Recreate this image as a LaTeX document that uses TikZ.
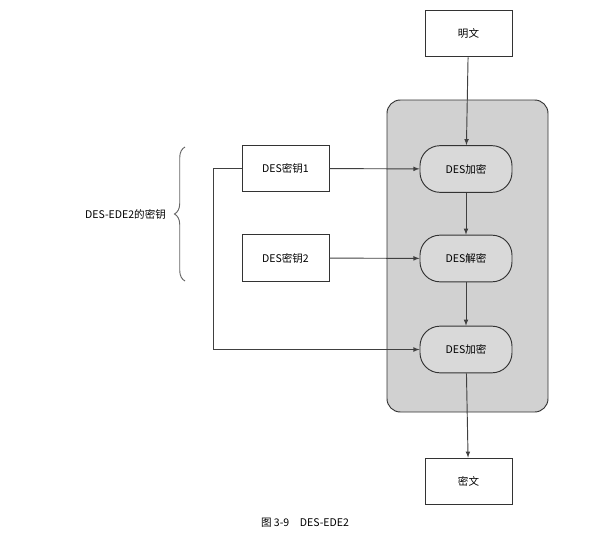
\documentclass[tikz,border=0pt]{standalone}
\usepackage{fontspec}
\setmainfont{Noto Sans CJK SC}
\usetikzlibrary{decorations.pathreplacing}
\begin{document}
\begin{tikzpicture}
	[x=0.3mm,y=-0.3mm,
		box/.style		={rectangle, draw=black!80, thick, fill=white,
									minimum width=26.1mm, minimum height=14mm, font=\small},
		pill/.style		={rectangle, rounded corners=6mm, draw=black!80, thick, fill=black!15,
									minimum width=27.6mm, minimum height=14mm, font=\small},
		line/.style		 	={draw, thick, black!75, -latex}
	]
\useasboundingbox (0,0) rectangle (609,540);
% gray frame
\node [draw=black!80, thick, fill=black!18, rounded corners=4mm,
	minimum width=48.3mm, minimum height=93.6mm] (frame) at (467.5,256) {};
% plain and cipher text
\node [box] (plain)  at (468.5,33.5)  {明文};
\node [box] (cipher) at (468.5,481.5) {密文};
% steps
\node [pill] (enc 1) at (466,169)   {DES加密};
\node [pill] (dec)   at (466,258.5) {DES解密};
\node [pill] (enc 2) at (466,349.5) {DES加密};
% keys
\node [box] (key 1) at (285.5,168.5) {DES密钥1};
\node [box] (key 2) at (285.5,258)   {DES密钥2};
\coordinate (turn) at (213,168.5);
% brace and label
\draw [thick, black!60, decoration={brace,amplitude=9pt}, decorate]
	(185,281) -- (185,147);
\coordinate (brace tip) at (170,214);
\node [anchor=east, font=\small] (key label) at (brace tip) {DES-EDE2的密钥};
% caption
\node [font=\small] (caption) at (305,523) {图 3-9\quad DES-EDE2};
\begin{scope}[every path/.style=line]
	\path		(plain)		-- (enc 1);
	\path		(enc 1)		-- (dec);
	\path		(dec)		-- (enc 2);
	\path		(enc 2)		-- (cipher);
	\path		(key 1)		-- (enc 1);
	\path		(key 2)		-- (dec);
	\path		(key 1.west)	-- (turn) |- (enc 2);
\end{scope}
\end{tikzpicture}
\end{document}
